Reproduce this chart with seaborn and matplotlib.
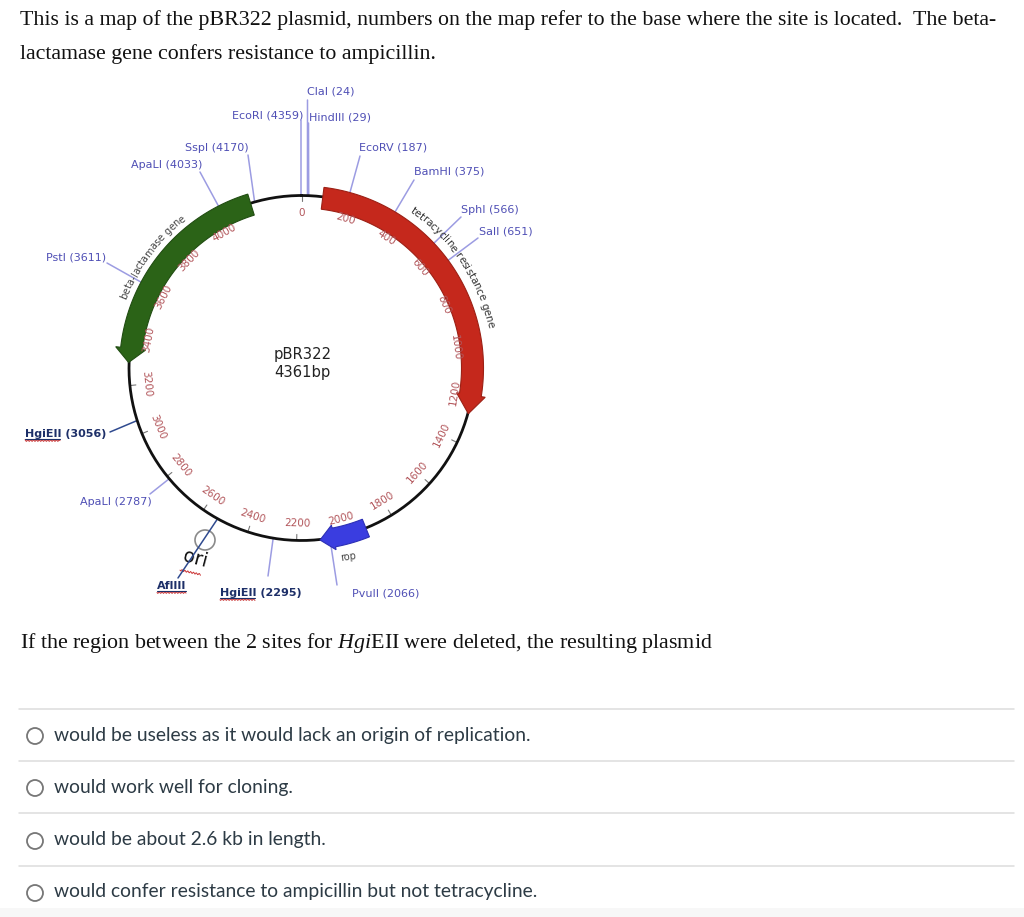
import numpy as np
import pandas as pd
import matplotlib
matplotlib.use("Agg")
import matplotlib.pyplot as plt
from matplotlib.textpath import TextPath
from matplotlib.font_manager import FontProperties
import seaborn as sns

# ---------- data ----------
PLASMID_BP = 4361
tick_bp = [0, 200, 400, 600, 800, 1000, 1200, 1400, 1600, 1800, 2000, 2200, 2400,
           2600, 2800, 3000, 3200, 3400, 3600, 3800, 4000]
site_names = ["ClaI (24)", "EcoRI (4359)", "HindIII (29)", "EcoRV (187)", "BamHI (375)",
              "SphI (566)", "SalI (651)", "SspI (4170)", "ApaLI (4033)", "PstI (3611)",
              "HgiEII (3056)", "ApaLI (2787)", "AflIII", "HgiEII (2295)", "PvuII (2066)"]
site_bp = [24, 4359, 29, 187, 375, 566, 651, 4170, 4033, 3611, 3056, 2787, 2533, 2295, 2066]
gene_names = ["tetracycline resistance gene", "beta-lactamase gene", "rop"]
gene_start = [86, 4153, 1915]
gene_end = [1276, 3293, 2106]
intro_lines = ["This is a map of the pBR322 plasmid, numbers on the map refer to the base where the site is located.  The beta-",
               "lactamase gene confers resistance to ampicillin."]
question = r"If the region between the 2 sites for $\mathit{Hgi}$EII were deleted, the resulting plasmid"
answers = ["would be useless as it would lack an origin of replication.",
           "would work well for cloning.",
           "would be about 2.6 kb in length.",
           "would confer resistance to ampicillin but not tetracycline."]

# ---------- layout (pixels) ----------
W, H = 1024, 917
CX, CY, RMAX = 301.5, 368.0, 300.0
RING = 172.5
site_text_xy = [(307, 92), (232, 115), (309, 117), (359, 148), (414, 172), (461, 210), (479, 231),
                (185, 148), (131, 165), (46, 257), (25, 434), (80, 502), (157, 586), (220, 593), (352, 593)]
site_leader_end = [(307.5, 100), (301, 120), (308.5, 123), (360, 156), (414, 180), (461, 217), (478, 238),
                   (248, 155), (200, 172), (107, 263), (110, 432), (150, 494), (178, 578), (268, 576), (337, 585)]
gene_colors = ["#c5281c", "#2b6317", "#3a3de0"]
gene_edges = ["#9c2015", "#214d12", "#2d30b5"]
head_bp = [1200, 3350, 2050]
option_y = [735, 787, 840, 892]
rule_y = [709, 761, 813, 866]
SITE_SIZE = 8.0

sns.set_theme(style="white")
plt.rcParams["font.family"] = ["DejaVu Sans"]
plt.rcParams["mathtext.fontset"] = "custom"
plt.rcParams["mathtext.rm"] = "Liberation Serif"
plt.rcParams["mathtext.it"] = "Liberation Serif:italic"

fig = plt.figure(figsize=(W / 100, H / 100), dpi=100, facecolor="white")
root = fig.add_axes([0, 0, 1, 1])
root.set_xlim(0, W)
root.set_ylim(H, 0)
root.axis("off")

ax = fig.add_axes([(CX - RMAX) / W, (H - CY - RMAX) / H, 2 * RMAX / W, 2 * RMAX / H],
                  projection="polar")
ax.set_theta_zero_location("N")
ax.set_theta_direction(-1)
ax.set_ylim(0, RMAX)
ax.axis("off")
ax.patch.set_alpha(0)


def th(bp):
    return np.asarray(bp) / PLASMID_BP * 2 * np.pi


# ---------- backbone ----------
ring_bp = np.arange(0, PLASMID_BP + 1, 10)
sns.lineplot(data=pd.DataFrame({"t": th(ring_bp), "r": RING}), x="t", y="r", ax=ax,
             color="#111111", lw=2.0, estimator=None, sort=False, legend=False, zorder=2)
ax.set_xlabel("")
ax.set_ylabel("")
ax.axis("off")

# ---------- ticks ----------
for bp in tick_bp:
    t = float(th(bp))
    deg = np.degrees(t)
    ax.plot([t, t], [RING - 6, RING], color="#777777", lw=0.8, zorder=1)
    rot = 180 - deg if 90 < deg < 270 else -deg
    ax.text(t, 155.5, str(bp), color="#b2555a", fontsize=7.5, rotation=rot,
            rotation_mode="anchor", ha="center", va="center", zorder=5)

# ---------- site leaders ----------
for name, bp, tx, le in zip(site_names, site_bp, site_text_xy, site_leader_end):
    squiggle = name.startswith("HgiEII") or name.startswith("AflIII")
    ax.annotate("", xy=(float(th(bp)), RING), xycoords="data",
                xytext=(le[0], H - le[1]), textcoords="figure pixels",
                arrowprops=dict(arrowstyle="-", color="#2f4a8f" if squiggle and name != "HgiEII (2295)" else "#9c9ce2",
                                lw=1.1, shrinkA=0, shrinkB=0), zorder=1)
    root.text(tx[0], tx[1], name, color="#1d2f68" if squiggle else "#4f4fb5",
              fontsize=SITE_SIZE, fontweight="bold" if squiggle else "normal", ha="left", va="center")
    if squiggle:
        stem = name.split(" ")[0]
        w = TextPath((0, 0), stem, size=SITE_SIZE * 100 / 72,
                     prop=FontProperties(family="DejaVu Sans", weight="bold")).get_extents().width
        xs = np.arange(tx[0], tx[0] + w + 0.5, 0.5)
        root.plot(xs, tx[1] + 6.6 + 0.8 * np.sin(xs * 2.2), color="#cc3a3a", lw=0.7)
        root.plot([tx[0], tx[0] + w], [tx[1] + 5.4, tx[1] + 5.4], color="#1d2f68", lw=0.8)


# ---------- genes ----------
def gene_arrow(start, end, head, r0, r1, wing0, wing1, color, edge):
    a = np.linspace(start, head, 80)
    b = a[::-1]
    ts = np.r_[th(a), th(head), th(end), th(head), th(b)]
    rs = np.r_[np.full(80, r1), wing1, RING + 0.5, wing0, np.full(80, r0)]
    ax.fill(ts, rs, facecolor=color, edgecolor=edge, lw=0.8, zorder=3, joinstyle="miter")


gene_arrow(gene_start[0], gene_end[0], head_bp[0], 160, 182, 157, 186, gene_colors[0], gene_edges[0])
gene_arrow(gene_start[1], gene_end[1], head_bp[1], 160, 182, 157, 187, gene_colors[1], gene_edges[1])
gene_arrow(gene_start[2], gene_end[2], head_bp[2], 163, 182, 160, 185, gene_colors[2], gene_edges[2])


def curved(text, deg_start, radius, size, color):
    fp = FontProperties(family="DejaVu Sans")
    sc = size * 100 / 72
    for i, ch in enumerate(text):
        left = TextPath((0, 0), text[:i] + "|", size=sc, prop=fp).get_extents().x1
        full = TextPath((0, 0), text[:i + 1] + "|", size=sc, prop=fp).get_extents().x1
        mid = (left + full) / 2
        deg = deg_start + np.degrees(mid / radius)
        ax.text(np.radians(deg), radius, ch, fontsize=size, color=color, rotation=-deg,
                rotation_mode="anchor", ha="center", va="center", zorder=5)


curved(gene_names[0], 34.0, 193, 7.4, "#333333")
curved(gene_names[1], 290.5, 191, 7.0, "#444444")
root.text(348, 557, gene_names[2], fontsize=7, color="#444444", rotation=8, ha="center", va="center", zorder=6)

# ---------- centre & ori ----------
root.text(274, 355, "pBR322", fontsize=10.6, color="#222222", ha="left", va="center")
root.text(274, 372, "4361bp", fontsize=10.6, color="#222222", ha="left", va="center")
root.add_patch(plt.Circle((205, 540), 10, fill=False, ec="#8a8a8a", lw=1.2, zorder=4))
root.text(195, 559, "ori", fontsize=13.5, color="#111111", rotation=-15, ha="center", va="center", zorder=6)
xs = np.arange(180, 201, 0.5)
root.plot(xs, 570 + (xs - 180) * 0.22 + 0.8 * np.sin(xs * 2.2), color="#cc3a3a", lw=0.7)

# ---------- question text ----------
for y, line in zip([20, 54], intro_lines):
    root.text(20, y, line, family="Liberation Serif", fontsize=15.72, color="#111111", ha="left", va="center")
root.text(20, 643, question, family="Liberation Serif", fontsize=15.8, color="#111111", ha="left", va="center")
for y in rule_y:
    root.plot([19, 1014], [y, y], color="#dcdcdc", lw=1.1)
for y, a in zip(option_y, answers):
    root.add_patch(plt.Circle((35, y + 1), 8, fill=False, ec="#777777", lw=1.3))
    root.text(54, y, a, family="Lato", fontsize=13.85, color="#2d3b45", ha="left", va="center")
root.add_patch(plt.Rectangle((0, 908), W, 9, fc="#f7f7f7", ec="none", zorder=0))

fig.savefig("out.png", dpi=100, facecolor="white")
